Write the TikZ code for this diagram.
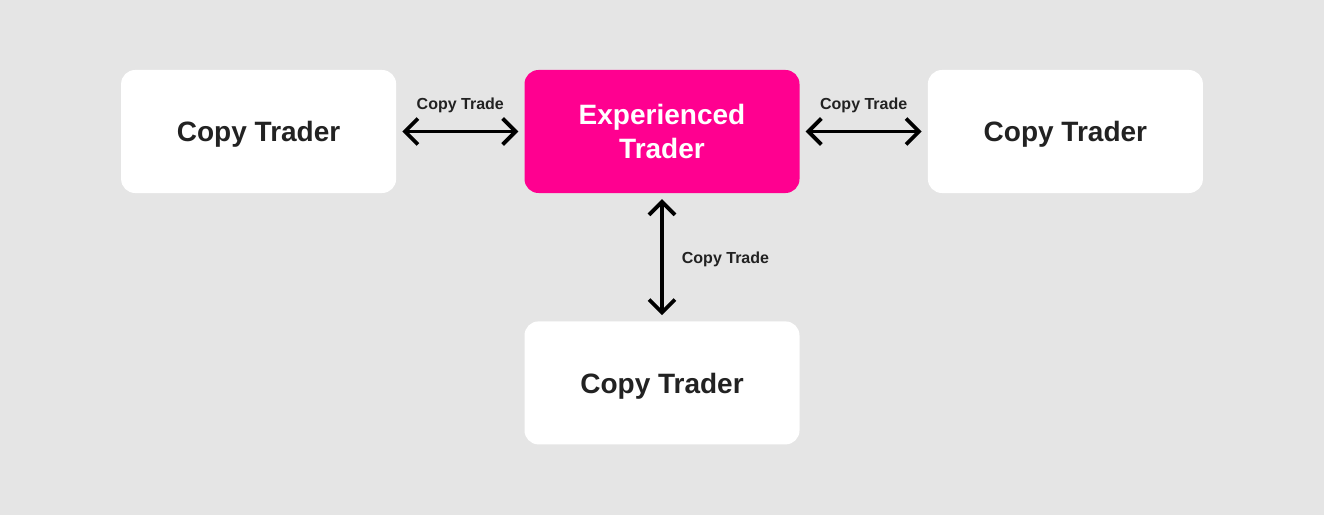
\documentclass[tikz,border=0pt]{standalone}
\usepackage{fontspec}
\setmainfont{Liberation Sans}
\usepackage{tikz}
\usetikzlibrary{positioning}
\usetikzlibrary{arrows.meta}
\definecolor{paper}{RGB}{229,229,229}
\definecolor{hotpink}{RGB}{255,0,144}
\definecolor{ink}{RGB}{34,34,34}
\tikzset{trader/.style={fill=white, rounded corners=14pt, minimum width=275pt, minimum height=123pt,
    inner sep=0pt, text depth=0pt, align=center, text=ink, font=\fontsize{28}{34}\selectfont\bfseries}}
\tikzset{lead/.style={trader, fill=hotpink, text=white}}
\tikzset{barb/.tip={Straight Barb[length=13pt,width=26pt]}}
\tikzset{copylink/.style={barb-barb, line width=3.8pt, line cap=round, shorten >=6pt, shorten <=6pt}}
\tikzset{linklabel/.style={inner sep=0pt, text=ink, font=\fontsize{16}{19}\selectfont\bfseries}}

\begin{document}
\begin{tikzpicture}[x=1pt,y=1pt]
            \fill [paper] (0,0) rectangle (1324,515);
            \node (et)  [lead] at (662,383.5)   {Experienced\\Trader};
            \node (ct1) [trader, left=128pt of et]  {Copy Trader};
            \node (ct2) [trader, right=128pt of et] {Copy Trader};
            \node (ct3) [trader, below=128pt of et] {Copy Trader};

            \draw [copylink] (ct1) -- node [linklabel, anchor=base, yshift=22pt] {Copy Trade} (et);
            \draw [copylink] (et) -- node [linklabel, anchor=base, yshift=22pt] {Copy Trade} (ct2);
            \draw [copylink] (et) -- node [linklabel, anchor=base west, xshift=18pt, yshift=-6pt] {Copy Trade} (ct3);
        \end{tikzpicture}
\end{document}
